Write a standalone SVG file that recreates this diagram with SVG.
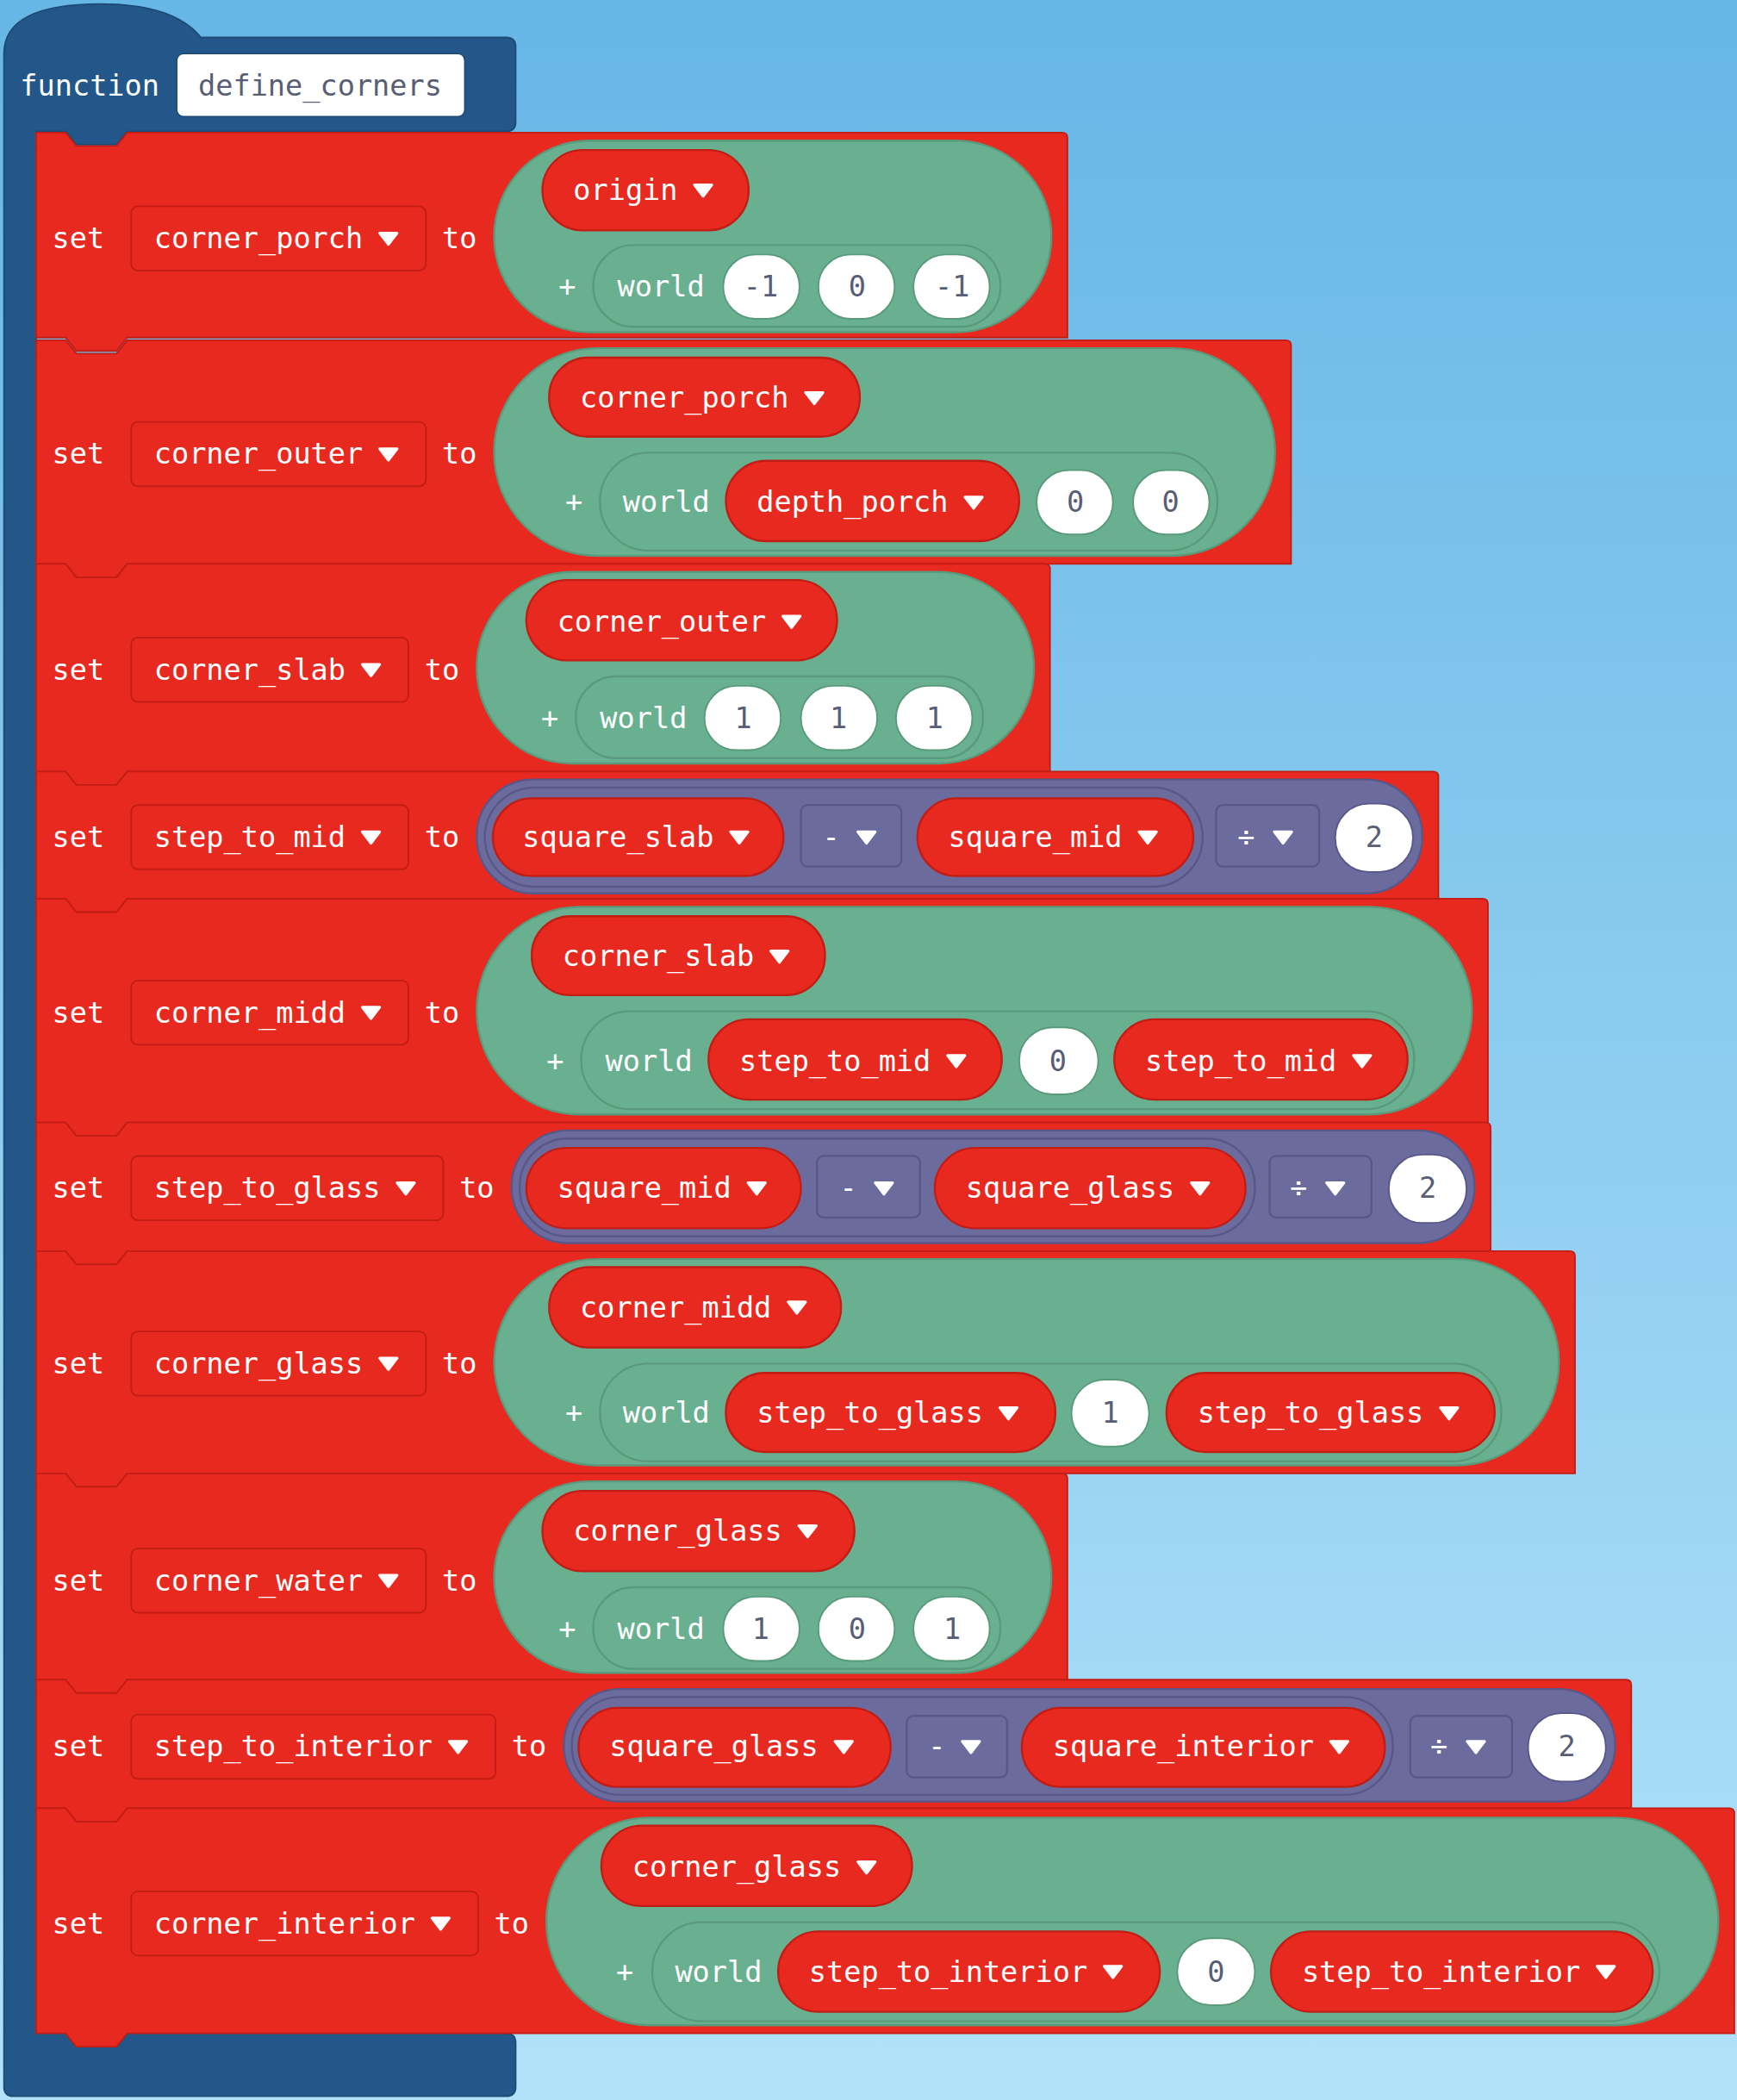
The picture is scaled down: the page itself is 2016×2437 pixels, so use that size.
<svg xmlns="http://www.w3.org/2000/svg" xmlns:xlink="http://www.w3.org/1999/xlink" width="2016" height="2437" viewBox="0 0 2016 2437">
<defs>
<linearGradient id="bg" x1="0" y1="0" x2="0" y2="1"><stop offset="0" stop-color="#66b6e6"/><stop offset="1" stop-color="#b2e2f9"/></linearGradient>
<path id="tri" d="M-6.5,-4 H6.5 L0,4.5 Z" fill="#fff" stroke="#fff" stroke-width="2" stroke-linejoin="round"/>
</defs>
<style>
text{font-family:"DejaVu Sans Mono","Liberation Mono",monospace;font-size:21.6px;dominant-baseline:central;fill:#fff}
.num{fill:#575e75;text-anchor:middle}
.blk{fill:#e8291f;stroke:#c21d15;stroke-width:1.2}
.var{fill:#e8291f;stroke:#c21d15;stroke-width:1.2}
.grn{fill:#69b090;stroke:#5a9a7c;stroke-width:1.5}
.pur{fill:#6b6b9d;stroke:#57578a;stroke-width:1.5}
.pill{fill:#e8291f;stroke:#c21d15;stroke-width:1.5}
.wh{fill:#fff;stroke:#5a9a7c;stroke-width:1.2}
</style>
<rect width="2016" height="2437" fill="url(#bg)"/>
<g transform="scale(1.5544)">
<g id="function">
<path d="M3,40 Q3,3 75,3 Q130,3 150,28 H378 q7,0 7,7 V91 q0,7 -7,7 H95 l-8,10 h-30 l-8,-10 H27 V1518 H49 l8,10 h30 l8,-10 H378 q7,0 7,7 V1558 q0,7 -7,7 H10 q-7,0 -7,-7 Z" fill="#235789" stroke="#1d4a75" stroke-width="1.2"/>
<text x="15" y="64">function</text>
<rect x="132" y="40" width="215" height="47" rx="5" fill="#fff" stroke="#1d4a75"/>
<text x="148" y="64" fill="#575e75" style="fill:#575e75">define_corners</text>
</g>

<g id="set1">
<path class="blk" d="M27,99 H49 l8,10 h30 l8,-10 H793 q4,0 4,4 V252 H95 l-8,10 h-30 l-8,-10 H27 Z"/>
<text x="39" y="178">set</text>
<rect class="var" x="98" y="154" width="220" height="48" rx="5"/><text x="115" y="178">corner_porch</text><use href="#tri" x="290" y="178"/>
<text x="330" y="178">to</text>
<rect class="grn" x="369" y="105" width="416" height="143" rx="71"/>
<rect class="pill" x="405" y="112" width="154" height="60" rx="30"/><text x="428" y="142">origin</text><use href="#tri" x="525" y="142"/>
<text x="417" y="214">+</text>
<rect class="grn" x="443" y="183" width="304" height="61" rx="30"/>
<text x="461" y="214">world</text>
<rect class="wh" x="540" y="190" width="57" height="48" rx="24"/><text class="num" x="568" y="214">-1</text>
<rect class="wh" x="611" y="190" width="57" height="48" rx="24"/><text class="num" x="640" y="214">0</text>
<rect class="wh" x="682" y="190" width="57" height="48" rx="24"/><text class="num" x="711" y="214">-1</text>
</g>

<g id="set2">
<path class="blk" d="M27,254 H49 l8,10 h30 l8,-10 H960 q4,0 4,4 V421 H95 l-8,10 h-30 l-8,-10 H27 Z"/>
<text x="39" y="339">set</text>
<rect class="var" x="98" y="315" width="220" height="48" rx="5"/><text x="115" y="339">corner_outer</text><use href="#tri" x="290" y="339"/>
<text x="330" y="339">to</text>
<rect class="grn" x="369" y="260" width="583" height="155" rx="77"/>
<rect class="pill" x="410" y="267" width="232" height="59" rx="29"/><text x="433" y="297">corner_porch</text><use href="#tri" x="608" y="297"/>
<text x="422" y="375">+</text>
<rect class="grn" x="448" y="338" width="461" height="73" rx="36"/>
<text x="465" y="375">world</text>
<rect class="pill" x="542" y="344" width="219" height="60" rx="30"/><text x="565" y="375">depth_porch</text><use href="#tri" x="727" y="375"/>
<rect class="wh" x="774" y="351" width="57" height="48" rx="24"/><text class="num" x="803" y="375">0</text>
<rect class="wh" x="846" y="351" width="57" height="48" rx="24"/><text class="num" x="874" y="375">0</text>
</g>

<g id="set3">
<path class="blk" d="M27,421 H49 l8,10 h30 l8,-10 H780 q4,0 4,4 V576 H95 l-8,10 h-30 l-8,-10 H27 Z"/>
<text x="39" y="500">set</text>
<rect class="var" x="98" y="476" width="207" height="48" rx="5"/><text x="115" y="500">corner_slab</text><use href="#tri" x="277" y="500"/>
<text x="317" y="500">to</text>
<rect class="grn" x="356" y="427" width="416" height="143" rx="71"/>
<rect class="pill" x="393" y="433" width="232" height="60" rx="30"/><text x="416" y="464">corner_outer</text><use href="#tri" x="591" y="464"/>
<text x="404" y="536">+</text>
<rect class="grn" x="430" y="505" width="304" height="61" rx="30"/>
<text x="448" y="536">world</text>
<rect class="wh" x="526" y="512" width="57" height="48" rx="24"/><text class="num" x="555" y="536">1</text>
<rect class="wh" x="598" y="512" width="57" height="48" rx="24"/><text class="num" x="626" y="536">1</text>
<rect class="wh" x="669" y="512" width="57" height="48" rx="24"/><text class="num" x="698" y="536">1</text>
</g>

<g id="set4">
<path class="blk" d="M27,576 H49 l8,10 h30 l8,-10 H1070 q4,0 4,4 V671 H95 l-8,10 h-30 l-8,-10 H27 Z"/>
<text x="39" y="625">set</text>
<rect class="var" x="98" y="601" width="207" height="48" rx="5"/><text x="115" y="625">step_to_mid</text><use href="#tri" x="277" y="625"/>
<text x="317" y="625">to</text>
<rect class="pur" x="356" y="582" width="706" height="85" rx="42"/>
<rect class="pur" x="362" y="588" width="536" height="74" rx="37"/>
<rect class="pill" x="368" y="596" width="217" height="58" rx="29"/><text x="390" y="625">square_slab</text><use href="#tri" x="552" y="625"/>
<rect class="pur" x="598" y="601" width="75" height="46" rx="5"/><text x="614" y="625">-</text><use href="#tri" x="647" y="625"/>
<rect class="pill" x="685" y="596" width="206" height="58" rx="29"/><text x="708" y="625">square_mid</text><use href="#tri" x="857" y="625"/>
<rect class="pur" x="908" y="601" width="77" height="46" rx="5"/><text x="924" y="625">÷</text><use href="#tri" x="958" y="625"/>
<rect class="wh" x="997" y="600" width="58" height="51" rx="25" style="stroke:#57578a"/><text class="num" x="1026" y="625">2</text>
</g>

<g id="set5">
<path class="blk" d="M27,671 H49 l8,10 h30 l8,-10 H1107 q4,0 4,4 V838 H95 l-8,10 h-30 l-8,-10 H27 Z"/>
<text x="39" y="756">set</text>
<rect class="var" x="98" y="732" width="207" height="48" rx="5"/><text x="115" y="756">corner_midd</text><use href="#tri" x="277" y="756"/>
<text x="317" y="756">to</text>
<rect class="grn" x="356" y="677" width="743" height="155" rx="77"/>
<rect class="pill" x="397" y="684" width="219" height="59" rx="29"/><text x="420" y="714">corner_slab</text><use href="#tri" x="582" y="714"/>
<text x="408" y="792">+</text>
<rect class="grn" x="434" y="755" width="622" height="73" rx="36"/>
<text x="452" y="792">world</text>
<rect class="pill" x="529" y="761" width="219" height="60" rx="30"/><text x="552" y="792">step_to_mid</text><use href="#tri" x="714" y="792"/>
<rect class="wh" x="761" y="767" width="59" height="50" rx="25"/><text class="num" x="790" y="792">0</text>
<rect class="pill" x="832" y="761" width="219" height="60" rx="30"/><text x="855" y="792">step_to_mid</text><use href="#tri" x="1017" y="792"/>
</g>

<g id="set6">
<path class="blk" d="M27,838 H49 l8,10 h30 l8,-10 H1109 q4,0 4,4 V934 H95 l-8,10 h-30 l-8,-10 H27 Z"/>
<text x="39" y="887">set</text>
<rect class="var" x="98" y="863" width="233" height="48" rx="5"/><text x="115" y="887">step_to_glass</text><use href="#tri" x="303" y="887"/>
<text x="343" y="887">to</text>
<rect class="pur" x="382" y="844" width="719" height="84" rx="42"/>
<rect class="pur" x="388" y="850" width="549" height="73" rx="36"/>
<rect class="pill" x="393" y="857" width="205" height="60" rx="30"/><text x="416" y="887">square_mid</text><use href="#tri" x="565" y="887"/>
<rect class="pur" x="610" y="863" width="77" height="46" rx="5"/><text x="627" y="887">-</text><use href="#tri" x="660" y="887"/>
<rect class="pill" x="698" y="857" width="232" height="60" rx="30"/><text x="721" y="887">square_glass</text><use href="#tri" x="896" y="887"/>
<rect class="pur" x="948" y="863" width="76" height="46" rx="5"/><text x="963" y="887">÷</text><use href="#tri" x="997" y="887"/>
<rect class="wh" x="1037" y="862" width="58" height="51" rx="25" style="stroke:#57578a"/><text class="num" x="1066" y="887">2</text>
</g>

<g id="set7">
<path class="blk" d="M27,934 H49 l8,10 h30 l8,-10 H1172 q4,0 4,4 V1100 H95 l-8,10 h-30 l-8,-10 H27 Z"/>
<text x="39" y="1018">set</text>
<rect class="var" x="98" y="994" width="220" height="48" rx="5"/><text x="115" y="1018">corner_glass</text><use href="#tri" x="290" y="1018"/>
<text x="330" y="1018">to</text>
<rect class="grn" x="369" y="940" width="795" height="154" rx="77"/>
<rect class="pill" x="410" y="946" width="218" height="60" rx="30"/><text x="433" y="976">corner_midd</text><use href="#tri" x="595" y="976"/>
<text x="422" y="1055">+</text>
<rect class="grn" x="448" y="1018" width="673" height="73" rx="36"/>
<text x="465" y="1055">world</text>
<rect class="pill" x="542" y="1025" width="246" height="59" rx="29"/><text x="565" y="1055">step_to_glass</text><use href="#tri" x="753" y="1055"/>
<rect class="wh" x="800" y="1030" width="58" height="50" rx="25"/><text class="num" x="829" y="1055">1</text>
<rect class="pill" x="871" y="1025" width="245" height="59" rx="29"/><text x="894" y="1055">step_to_glass</text><use href="#tri" x="1082" y="1055"/>
</g>

<g id="set8">
<path class="blk" d="M27,1100 H49 l8,10 h30 l8,-10 H793 q4,0 4,4 V1254 H95 l-8,10 h-30 l-8,-10 H27 Z"/>
<text x="39" y="1180">set</text>
<rect class="var" x="98" y="1156" width="220" height="48" rx="5"/><text x="115" y="1180">corner_water</text><use href="#tri" x="290" y="1180"/>
<text x="330" y="1180">to</text>
<rect class="grn" x="369" y="1106" width="416" height="143" rx="71"/>
<rect class="pill" x="405" y="1113" width="233" height="60" rx="30"/><text x="428" y="1143">corner_glass</text><use href="#tri" x="603" y="1143"/>
<text x="417" y="1216">+</text>
<rect class="grn" x="443" y="1185" width="304" height="61" rx="30"/>
<text x="461" y="1216">world</text>
<rect class="wh" x="540" y="1192" width="57" height="48" rx="24"/><text class="num" x="568" y="1216">1</text>
<rect class="wh" x="611" y="1192" width="57" height="48" rx="24"/><text class="num" x="640" y="1216">0</text>
<rect class="wh" x="682" y="1192" width="57" height="48" rx="24"/><text class="num" x="711" y="1216">1</text>
</g>

<g id="set9">
<path class="blk" d="M27,1254 H49 l8,10 h30 l8,-10 H1214 q4,0 4,4 V1350 H95 l-8,10 h-30 l-8,-10 H27 Z"/>
<text x="39" y="1304">set</text>
<rect class="var" x="98" y="1280" width="272" height="48" rx="5"/><text x="115" y="1304">step_to_interior</text><use href="#tri" x="342" y="1304"/>
<text x="382" y="1304">to</text>
<rect class="pur" x="421" y="1261" width="785" height="84" rx="42"/>
<rect class="pur" x="427" y="1267" width="613" height="73" rx="36"/>
<rect class="pill" x="432" y="1275" width="233" height="59" rx="29"/><text x="455" y="1304">square_glass</text><use href="#tri" x="630" y="1304"/>
<rect class="pur" x="677" y="1281" width="75" height="46" rx="5"/><text x="693" y="1304">-</text><use href="#tri" x="725" y="1304"/>
<rect class="pill" x="763" y="1275" width="271" height="59" rx="29"/><text x="786" y="1304">square_interior</text><use href="#tri" x="1000" y="1304"/>
<rect class="pur" x="1053" y="1281" width="76" height="46" rx="5"/><text x="1068" y="1304">÷</text><use href="#tri" x="1102" y="1304"/>
<rect class="wh" x="1141" y="1279" width="58" height="51" rx="25" style="stroke:#57578a"/><text class="num" x="1170" y="1304">2</text>
</g>

<g id="set10">
<path class="blk" d="M27,1350 H49 l8,10 h30 l8,-10 H1291 q4,0 4,4 V1518 H95 l-8,10 h-30 l-8,-10 H27 Z"/>
<text x="39" y="1436">set</text>
<rect class="var" x="98" y="1412" width="259" height="48" rx="5"/><text x="115" y="1436">corner_interior</text><use href="#tri" x="329" y="1436"/>
<text x="369" y="1436">to</text>
<rect class="grn" x="408" y="1357" width="875" height="155" rx="77"/>
<rect class="pill" x="449" y="1363" width="232" height="60" rx="30"/><text x="472" y="1394">corner_glass</text><use href="#tri" x="647" y="1394"/>
<text x="460" y="1472">+</text>
<rect class="grn" x="487" y="1435" width="752" height="74" rx="37"/>
<text x="504" y="1472">world</text>
<rect class="pill" x="581" y="1442" width="285" height="60" rx="30"/><text x="604" y="1472">step_to_interior</text><use href="#tri" x="831" y="1472"/>
<rect class="wh" x="879" y="1447" width="58" height="50" rx="25"/><text class="num" x="908" y="1472">0</text>
<rect class="pill" x="949" y="1442" width="285" height="60" rx="30"/><text x="972" y="1472">step_to_interior</text><use href="#tri" x="1199" y="1472"/>
</g>
<g id="connectors"/>
</g>
</svg>
